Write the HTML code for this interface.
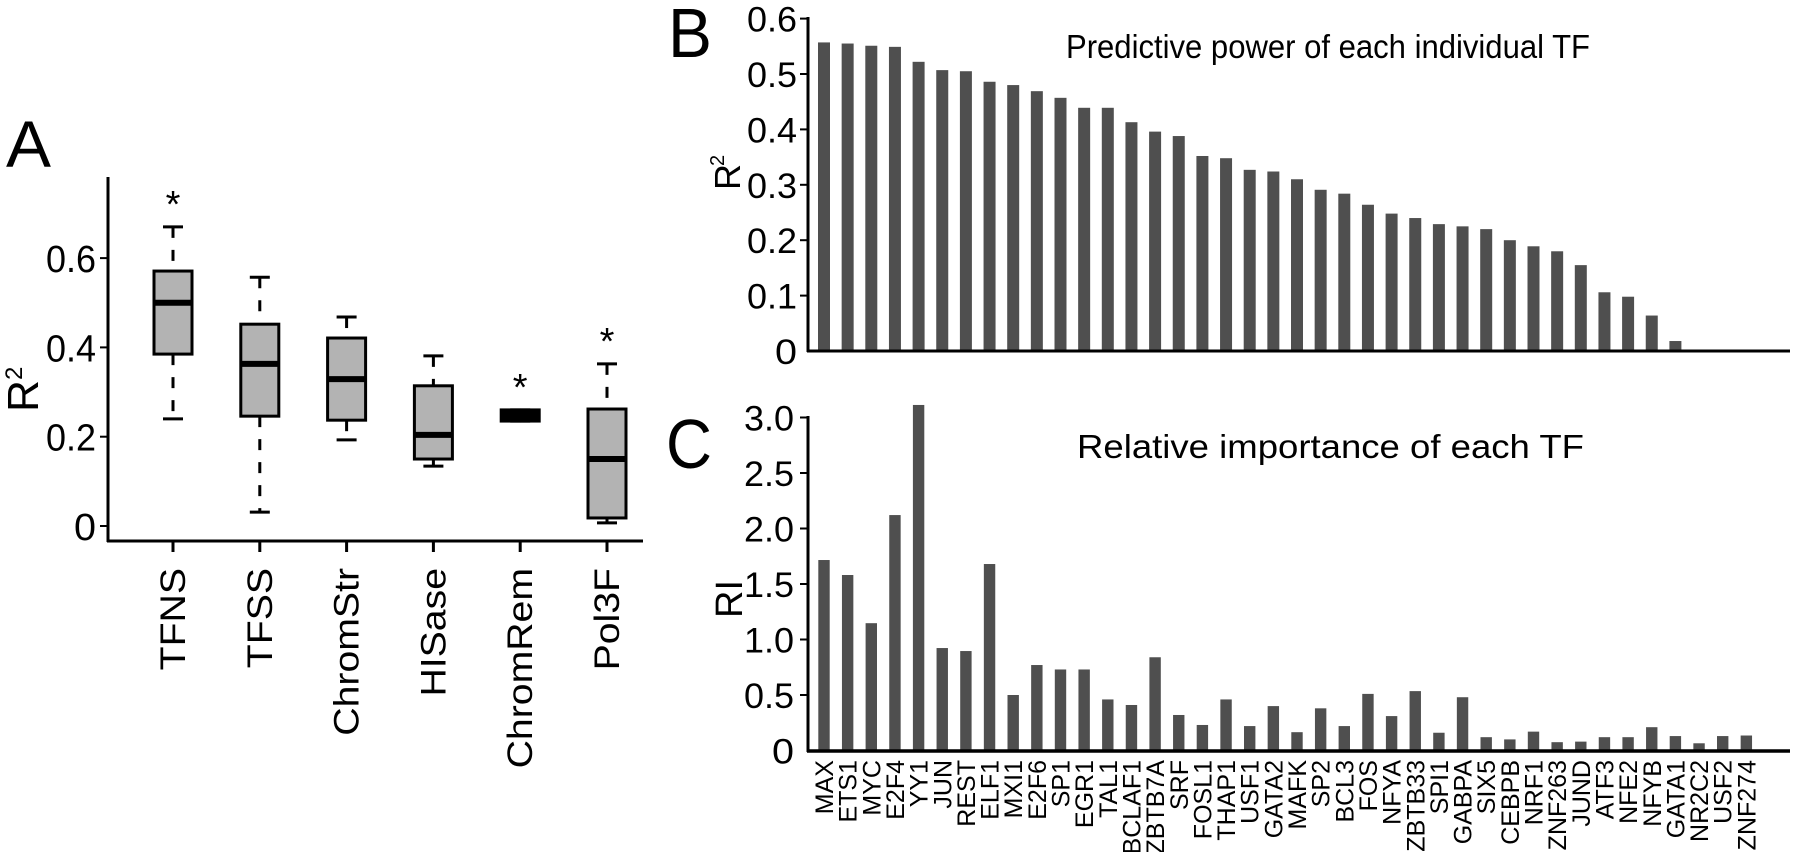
<!DOCTYPE html>
<html><head><meta charset="utf-8"><style>
html,body{margin:0;padding:0;background:#fff;}
svg{display:block;font-family:"Liberation Sans",Arial,sans-serif;}
</style></head><body>
<svg id="fig" width="1800" height="852" viewBox="0 0 1800 852" xmlns="http://www.w3.org/2000/svg"></svg>
<script>
// Panel A data
const aCats = ["TFNS","TFSS","ChromStr","HISase","ChromRem","Pol3F"];
const aWhiskLo = [0.24,0.031,0.193,0.134,0.235,0.007];
const aQ1 = [0.385,0.246,0.237,0.150,0.235,0.018];
const aMed = [0.50,0.363,0.329,0.204,0.248,0.150];
const aQ3 = [0.571,0.452,0.421,0.314,0.260,0.262];
const aWhiskHi = [0.67,0.557,0.468,0.381,0.260,0.363];
const aStar = [true,false,false,false,true,true];
const aTicks = [0,0.2,0.4,0.6];
const aTickLabels = ["0","0.2","0.4","0.6"];
// Panel B data
const bValues = [0.557,0.555,0.551,0.549,0.522,0.507,0.505,0.486,0.480,0.469,0.457,0.439,0.439,0.413,0.396,0.388,0.352,0.348,0.327,0.324,0.310,0.291,0.284,0.264,0.248,0.240,0.229,0.225,0.220,0.200,0.189,0.180,0.155,0.106,0.098,0.064,0.018];
const bTicks = [0,0.1,0.2,0.3,0.4,0.5,0.6];
const bTickLabels = ["0","0.1","0.2","0.3","0.4","0.5","0.6"];
// Panel C data
const cCats = ["MAX","ETS1","MYC","E2F4","YY1","JUN","REST","ELF1","MXI1","E2F6","SP1","EGR1","TAL1","BCLAF1","ZBTB7A","SRF","FOSL1","THAP1","USF1","GATA2","MAFK","SP2","BCL3","FOS","NFYA","ZBTB33","SPI1","GABPA","SIX5","CEBPB","NRF1","ZNF263","JUND","ATF3","NFE2","NFYB","GATA1","NR2C2","USF2","ZNF274"];
const cValues = [1.716,1.581,1.147,2.121,3.113,0.923,0.896,1.680,0.50,0.77,0.73,0.73,0.46,0.41,0.84,0.32,0.23,0.46,0.22,0.40,0.165,0.38,0.22,0.51,0.31,0.535,0.16,0.48,0.12,0.10,0.17,0.075,0.08,0.12,0.12,0.21,0.13,0.065,0.13,0.135];
const cTicks = [0,0.5,1.0,1.5,2.0,2.5,3.0];
const cTickLabels = ["0","0.5","1.0","1.5","2.0","2.5","3.0"];

const NS="http://www.w3.org/2000/svg";
const svg=document.getElementById('fig');
function el(tag,attrs,parent){const e=document.createElementNS(NS,tag);for(const k in attrs)e.setAttribute(k,attrs[k]);(parent||svg).appendChild(e);return e;}
function txt(s,x,y,size,anchor,rot,len,parent){
  const t=el('text',{x:0,y:0,'font-size':size,'text-anchor':anchor||'start',fill:'#000',transform:`translate(${x},${y})`+(rot?` rotate(${rot})`:'')},parent);
  t.textContent=s;
  if(len){t.setAttribute('textLength',len);t.setAttribute('lengthAdjust','spacingAndGlyphs');}
  return t;
}

// ---------- Panel A ----------
const gA=el('g',{});


const ay=v=>526-446.5*v;
const ax=i=>173+86.8*i;
let t=txt("A",6,167,66,'start',0,45,gA);


let ln=el('line',{x1:108,y1:177,x2:108,y2:542,stroke:'#000','stroke-width':3},gA);


ln=el('line',{x1:107,y1:541,x2:643,y2:541,stroke:'#000','stroke-width':3},gA);


aTicks.forEach((v,i)=>{
  el('line',{x1:100,y1:ay(v),x2:108,y2:ay(v),stroke:'#000','stroke-width':2},gA);
  const tl=txt(aTickLabels[i],96,ay(v)+14,38,'end',0,aTickLabels[i].length===1?22:50,gA);
  
  
});
t=txt("R",38,412,44,'start',-90,32,gA);


t=txt("2",22,380,24,'start',-90,null,gA);
aCats.forEach((c,i)=>{
  const x=ax(i);
  const g=el('g',{},gA);
  
  
  el('line',{x1:x,y1:ay(aWhiskHi[i]),x2:x,y2:ay(aQ3[i]),stroke:'#000','stroke-width':3,'stroke-dasharray':'11,12'},g);
  el('line',{x1:x,y1:ay(aQ1[i]),x2:x,y2:ay(aWhiskLo[i]),stroke:'#000','stroke-width':3,'stroke-dasharray':'11,12'},g);
  el('line',{x1:x-10,y1:ay(aWhiskHi[i]),x2:x+10,y2:ay(aWhiskHi[i]),stroke:'#000','stroke-width':3},g);
  el('line',{x1:x-10,y1:ay(aWhiskLo[i]),x2:x+10,y2:ay(aWhiskLo[i]),stroke:'#000','stroke-width':3},g);
  const solid = c==="ChromRem";
  el('rect',{x:x-19,y:ay(aQ3[i]),width:38,height:Math.max(1,ay(aQ1[i])-ay(aQ3[i])),fill:solid?'#000':'#b3b3b3',stroke:'#000','stroke-width':3},g);
  el('line',{x1:x-19,y1:ay(aMed[i]),x2:x+19,y2:ay(aMed[i]),stroke:'#000','stroke-width':6},g);
  if(aStar[i]){const s=txt("*",x,ay(aWhiskHi[i])-10,38,'middle',0,null,g);}
  el('line',{x1:x,y1:541,x2:x,y2:552,stroke:'#000','stroke-width':3},g);
  const lab=txt(c,x+12,568,35,'end',-90,null,gA);
  
  
  lab._stretch=true;
});

// ---------- Panel B ----------
const gB=el('g',{});


const by=v=>351-554*v;
const bx=i=>824+23.65*i;
t=txt("B",668,57,70,'start',0,44,gB);


t=txt("Predictive power of each individual TF",1066,58,33,'start',0,524,gB);


t=txt("R",740,190,36,'start',-90,26,gB);


txt("2",724,166,20,'start',-90,null,gB);
bValues.forEach((v,i)=>{
  const r=el('rect',{x:bx(i)-6,y:by(v),width:12,height:351-by(v),fill:'#4f4f4f'},gB);
  
  
});
ln=el('line',{x1:808,y1:17,x2:808,y2:352,stroke:'#000','stroke-width':3},gB);


ln=el('line',{x1:807,y1:351,x2:1790,y2:351,stroke:'#000','stroke-width':3},gB);


bTicks.forEach((v,i)=>{
  if(v>0)el('line',{x1:800,y1:by(v),x2:808,y2:by(v),stroke:'#000','stroke-width':2},gB);
  const tl=txt(bTickLabels[i],797,by(v)+13,35,'end',0,bTickLabels[i].length===1?22:50,gB);
  
  
});

// ---------- Panel C ----------
const gC=el('g',{});


const cy=v=>750.5-111*v;
const cx=i=>824+23.65*i;
t=txt("C",666,468,70,'start',0,46,gC);


t=txt("Relative importance of each TF",1077,458,33,'start',0,507,gC);


t=txt("RI",742,618,38,'start',-90,38,gC);


cValues.forEach((v,i)=>{
  const r=el('rect',{x:cx(i)-5.7,y:cy(v),width:11.4,height:750.5-cy(v),fill:'#4f4f4f'},gC);
  
  
  const lab=txt(cCats[i],cx(i)+9,760,25,'end',-90,null,gC);
  
  
});
ln=el('line',{x1:808,y1:416,x2:808,y2:752,stroke:'#000','stroke-width':3},gC);


ln=el('line',{x1:807,y1:751,x2:1790,y2:751,stroke:'#000','stroke-width':3.5},gC);


cTicks.forEach((v,i)=>{
  if(v>0)el('line',{x1:800,y1:cy(v),x2:808,y2:cy(v),stroke:'#000','stroke-width':2},gC);
  const tl=txt(cTickLabels[i],794,cy(v)+13,35,'end',0,cTickLabels[i].length===1?22:50,gC);
  
  
});

// stretch panel A x labels along their length
gA.querySelectorAll('text').forEach(tx=>{
  if(tx._stretch){const L=tx.getComputedTextLength();tx.setAttribute('textLength',L*1.12);tx.setAttribute('lengthAdjust','spacingAndGlyphs');}
});
</script>
</body></html>
